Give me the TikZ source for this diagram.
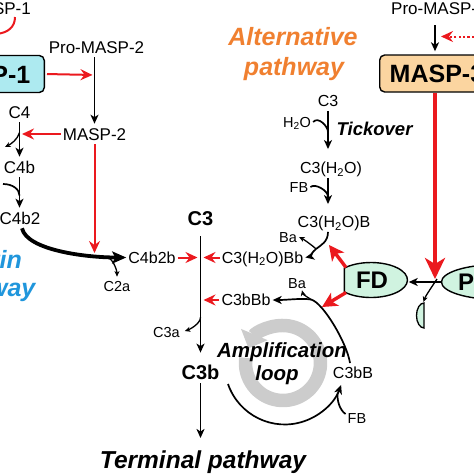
\documentclass[tikz,border=0pt]{standalone}
\usepackage{fontspec}
\setmainfont{Liberation Sans}
\usetikzlibrary{arrows.meta,shapes.geometric,calc}
\definecolor{myred}{RGB}{235,25,30}
\definecolor{boxcyan}{RGB}{173,234,240}
\definecolor{boxorange}{RGB}{251,213,160}
\definecolor{mint}{RGB}{208,243,224}
\definecolor{ringgray}{RGB}{204,204,204}
\definecolor{lectblue}{RGB}{32,150,220}
\definecolor{altorange}{RGB}{240,128,48}
\begin{document}
\begin{tikzpicture}[x=1pt,y=-1pt,
 lbl/.style={inner xsep=2pt,inner ysep=4pt,text height=11.5pt,text depth=0pt,font=\fontsize{16}{19}\selectfont},
 lblL/.style={lbl,text height=12.2pt,font=\fontsize{17}{20}\selectfont},
 sml/.style={lbl,text height=10.3pt,font=\fontsize{14.5}{17}\selectfont},
 bld/.style={lbl,text height=14.4pt,font=\fontsize{20}{24}\selectfont\bfseries},
 bigital/.style={inner sep=0pt,text height=18pt,text depth=0pt,font=\fontsize{25}{30}\selectfont\bfseries\itshape},
 boxnode/.style={draw=black,line width=1.4pt,rounded corners=5pt,minimum height=37pt,inner ysep=0pt,text height=18pt,text depth=0pt,font=\fontsize{25}{30}\selectfont\bfseries},
 ellnode/.style={ellipse,inner sep=0pt,minimum height=35pt,text height=17.3pt,text depth=0pt,font=\fontsize{24}{28}\selectfont\bfseries},
 blk/.style={line width=1.7pt,draw=black},
 blkarr/.style={blk,-{Stealth[length=9pt,width=8pt,inset=2.5pt]}},
 smallarr/.style={line width=1.3pt,draw=black,-{Stealth[length=5.5pt,width=5pt,inset=1.5pt]}},
 redarr/.style={line width=2pt,draw=myred,-{Stealth[length=12pt,width=11pt,inset=4pt]}},
 fdred/.style={line width=3.4pt,draw=myred,-{Stealth[length=15pt,width=15pt,inset=4pt]}},
 thickred/.style={line width=3.6pt,draw=myred,-{Stealth[length=21pt,width=20pt,inset=6pt]}}
]
\useasboundingbox (0,0) rectangle (474,474);
\clip (0,0) rectangle (474,474);

% amplification ring (behind)
\coordinate (ringc) at (283,363);
\draw[ringgray,line width=13.5pt,-{Triangle[length=15pt,width=28pt]}] ($(ringc)+(-172:37.5)$) arc[start angle=-172,end angle=-517,radius=37.5];

% ---------- lectin pathway ----------
\node[lblL,anchor=east] (promasp1) at (33,8) {Pro-MASP-1};
\node[boxnode,fill=boxcyan,inner xsep=14pt,anchor=east] (masp1) at (45,74) {MASP-1};
\node[lblL] (promasp2) at (96.5,47) {Pro-MASP-2};
\node[lblL] (masp2) at (94.5,134) {MASP-2};
\node[lblL] (c4) at (19.5,112) {C4};
\node[lblL] (c4b) at (19.5,167) {C4b};
\node[lblL] (c4b2) at (20,218) {C4b2};
\node[lbl] (c4b2b) at (152,257.5) {C4b2b};
\node[sml] (c2a) at (117,286) {C2a};
\node[bigital,text=lectblue,anchor=east] (lectin) at (22,259) {Lectin};
\node[bigital,text=lectblue,anchor=east] (lectpath) at (35.5,287) {pathway};

\coordinate (r0) at (15,17);
\coordinate (r1) at (-4,34);
\draw[line width=2pt,myred] (r0) .. controls +(0,10) and +(12,-1) .. (r1);

\coordinate (p2l) at (94.5,75);
\draw[redarr,shorten <=2pt,shorten >=2pt] (masp1.east) -- (p2l);
\draw[blkarr] (promasp2.south -| masp2.north) -- (masp2.north);

\draw[blkarr] (c4.south) -- (c4.south |- c4b.north);
\coordinate (c4j) at ($(c4.south)!0.3!(c4.south |- c4b.north)$);
\coordinate (c4a) at (5,147);
\draw[smallarr] (c4j) .. controls +(-2,7) and +(6,-3) .. (c4a);
\draw[redarr,shorten >=2.5pt] (masp2.west) -- (masp2.west -| c4j);

\draw[blkarr] (c4b.south) -- (c4b.south |- c4b2.north);
\coordinate (c2in) at (3,184);
\coordinate (c2j) at ($(c4b.south)!0.6!(c4b.south |- c4b2.north)$);
\draw[blk] (c2in) .. controls +(10,0) and +(0,-6) .. (c2j);

\draw[line width=3.8pt,-{Stealth[length=14pt,width=12pt,inset=3pt]}] ($(c4b2.south)+(2,0)$) .. controls +(5,22) and +(-40,0) .. (c4b2b.west);
\coordinate (c2aj) at (106,257);
\draw[smallarr] (c2aj) .. controls +(7,0.5) and +(0,-6) .. (c2a.north);
\coordinate (m2t) at (94.5,253);
\draw[redarr] (masp2.south) -- (m2t);

% ---------- central C3 ----------
\node[bld] (c3) at (200.5,218) {C3};
\node[lbl] (c3h2obb) at (262.5,257.5) {C3(H\textsubscript{2}O)Bb};
\node[lbl] (c3bbb) at (246,300) {C3bBb};
\node[sml] (ba1) at (288,237) {Ba};
\node[sml] (ba2) at (297,283) {Ba};
\node[sml] (c3a) at (166.5,332) {C3a};
\node[bld] (c3b) at (200.5,372) {C3b};
\node[inner sep=0pt,text height=17.6pt,text depth=0pt,font=\fontsize{24.5}{29}\selectfont\bfseries\itshape] (term) at (203,460) {Terminal pathway};

\draw[blkarr,shorten <=7pt,shorten >=8pt] (c3.south) -- (c3.south |- c3b.north);
\coordinate (c3l1) at (c3.south |- c4b2b);
\coordinate (c3l2) at (c3.south |- c3bbb);
\draw[redarr,shorten >=3pt] (c4b2b.east) -- (c3l1);
\draw[redarr,shorten >=3pt] (c3h2obb.west) -- (c3l1);
\draw[redarr,shorten >=3pt] (c3bbb.west) -- (c3l2);
\coordinate (c3aj) at ($(c3.south)!0.67!(c3.south |- c3b.north)$);
\draw[smallarr,shorten >=3pt] (c3aj) .. controls +(0,7) and +(6,-2) .. (c3a.east);
\draw[blkarr,shorten >=13pt] (c3b.south) -- (c3b.south |- term.north);

% ---------- amplification loop ----------
\node[inner sep=0pt,text height=14.8pt,text depth=0pt,font=\fontsize{20.5}{24}\selectfont\bfseries\itshape] (ampl) at (282,350) {Amplification};
\node[inner sep=0pt,text height=14.8pt,text depth=0pt,font=\fontsize{20.5}{24}\selectfont\bfseries\itshape] (loop) at (277,373) {loop};
\node[lbl] (c3bB) at (353,373) {C3bB};
\node[sml] (fb2) at (357,418) {FB};

\coordinate (lb0) at (228,384);
\draw[blkarr] (lb0) arc[start angle=161,end angle=20,radius=60];
\coordinate (fbj) at (337.7,392.7);
\draw[blk] ($(fb2.west)+(0,-4)$) .. controls +(-6,-4) and +(-1,7) .. (fbj);

\coordinate (fk2) at (311,299.5);
\draw[blk] ($(c3bB.north)+(-3,0)$) .. controls +(-3,-20) and +(12,3) .. (fk2);
\draw[blkarr] (fk2) .. controls +(-10,-1.5) and +(15,0) .. (c3bbb.east);
\coordinate (ba2t) at ($(ba2.south)+(5,-2)$);
\draw[smallarr] (fk2) .. controls +(-3,-2) and +(1,4) .. (ba2t);

% ---------- alternative pathway ----------
\node[bigital,text=altorange] (alt1) at (293,36.5) {Alternative};
\node[bigital,text=altorange] (alt2) at (294,66) {pathway};
\node[lbl] (c3alt) at (328,101) {C3};
\node[sml] (h2o) at (297,122) {H\textsubscript{2}O};
\node[inner sep=0pt,anchor=west,text height=13.3pt,text depth=0pt,font=\fontsize{18.5}{22}\selectfont\bfseries\itshape] (tick) at (336.5,129) {Tickover};
\node[lbl] (c3h2o) at (331,168) {C3(H\textsubscript{2}O)};
\node[sml] (fb1) at (299,187) {FB};
\node[lbl] (c3h2ob) at (334,222) {C3(H\textsubscript{2}O)B};

\draw[blkarr,shorten >=9pt] (c3alt.south) -- (c3alt.south |- c3h2o.north);
\coordinate (h2oj) at ($(c3alt.south)!0.45!(c3alt.south |- c3h2o.north)$);
\draw[blk] (h2o.east) .. controls +(5,-6) and +(0,-6) .. (h2oj);
\draw[blkarr,shorten >=8pt] (c3h2o.south -| c3alt) -- (c3h2ob.north -| c3alt);
\coordinate (fbj1) at ($(c3h2o.south -| c3alt)!0.55!(c3h2ob.north -| c3alt)$);
\draw[blk] (fb1.east) .. controls +(5,-4) and +(0,-6) .. (fbj1);

\coordinate (fk1) at (316,249);
\draw[blk] ($(c3h2ob.south)+(-6,0)$) .. controls +(0,10) and +(5,-4) .. (fk1);
\draw[blkarr] (fk1) .. controls +(-5,4) and +(5,-1) .. (c3h2obb.east);
\draw[smallarr] (fk1) .. controls +(-4,-4) and +(4,2) .. (ba1.east);

% ---------- MASP-3 / factor D ----------
\node[lblL,anchor=west] (promasp3) at (389,8) {Pro-MASP-3};
\node[boxnode,fill=boxorange,inner xsep=10pt,anchor=west] (masp3) at (379,73.5) {MASP-3};

\filldraw[fill=mint,draw=black,line width=1.4pt] (344.4,268) -- (344.4,292) arc[start angle=136.7,end angle=-136.7,x radius=36.5,y radius=17.5] -- cycle;
\node[ellnode,minimum width=73pt] (fd) at (372,280) {FD};
\node[ellnode,draw=black,line width=1.4pt,fill=mint,minimum width=92pt] (profd) at (498,282) {Pro-FD};

\coordinate (jx) at (435,282);
\draw[blkarr,shorten <=7pt,shorten >=3pt] (promasp3.south -| jx) -- (masp3.north -| jx);
\coordinate (dotstart) at (474,36.5);
\draw[redarr,dash pattern=on 2.2pt off 2.2pt,shorten >=6pt] (dotstart) -- (dotstart -| jx);
\draw[thickred,shorten >=3pt] (masp3.south -| jx) -- (jx);
\draw[blkarr] (profd.west) -- (profd.west -| fd.east);

\filldraw[fill=mint,draw=black,line width=1.3pt] (424,303) -- (424,328) arc[start angle=90,end angle=270,x radius=7.5,y radius=12.5] -- cycle;
\coordinate (pep) at (423.5,302);
\draw[smallarr] ($(jx)+(2,-3)$) .. controls +(-4,6) and +(2,-6) .. (pep);

\coordinate (t1) at (329,245);
\coordinate (t2) at (322,307);
\draw[fdred] (fd.north west) -- (t1);
\draw[fdred] (fd.south west) -- (t2);
\end{tikzpicture}
\end{document}
